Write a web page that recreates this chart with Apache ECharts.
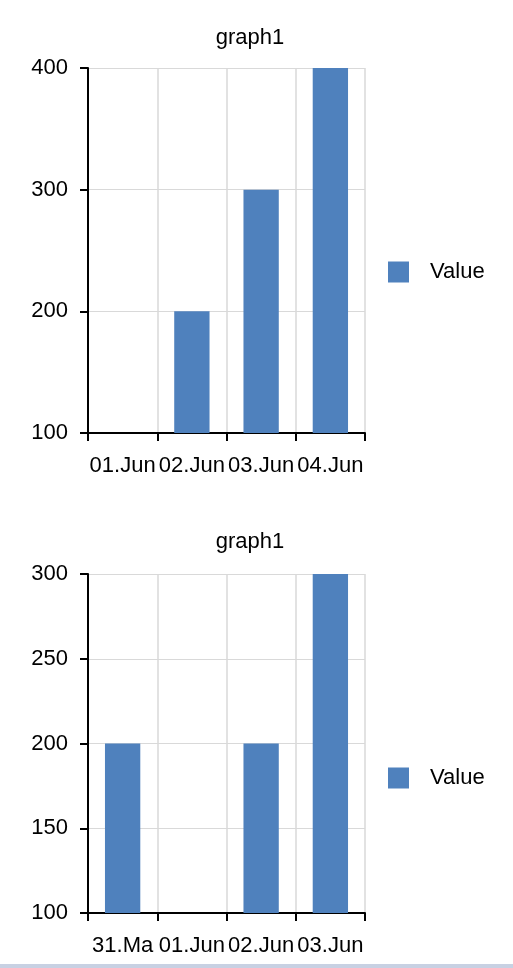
<!DOCTYPE html>
<html>
<head>
<meta charset="utf-8">
<script src="https://cdn.jsdelivr.net/npm/echarts@6/dist/echarts.min.js"></script>
<style>
html,body{margin:0;padding:0;background:#fff;overflow:hidden;}
#c{width:513px;height:968px;}
#strip{position:fixed;left:0;bottom:0;width:513px;height:4px;background:#c8d1e3;}
</style>
</head>
<body>
<div id="c"></div>
<div id="strip"></div>
<script>
var title1 = 'graph1';
var title2 = 'graph1';
var seriesName = 'Value';
var categories1 = ['01.Jun', '02.Jun', '03.Jun', '04.Jun'];
var values1 = [100, 200, 300, 400];
var categories2 = ['31.May', '01.Jun', '02.Jun', '03.Jun'];
var values2 = [200, 100, 200, 300];
var yTicks1 = [100, 200, 300, 400];
var yTicks2 = [100, 150, 200, 250, 300];

var FONT = 'Liberation Sans, Arial, sans-serif';
var BLUE = '#4f81bd';
var GRID = '#d9d9d9';

function xAxis(idx, cats) {
  return {
    type: 'category', gridIndex: idx, data: cats,
    axisLine: {show: true, lineStyle: {color: '#000', width: 2}},
    axisTick: {show: true, length: 8, lineStyle: {color: '#000', width: 2}},
    axisLabel: {color: '#000', fontSize: 22, fontFamily: FONT, margin: 20,
      width: 69, overflow: 'breakAll', lineHeight: 25, interval: 0, hideOverlap: false},
    splitLine: {show: true, lineStyle: {color: GRID, width: 1.5}}
  };
}
function yAxis(idx, ticks) {
  return {
    type: 'value', gridIndex: idx,
    min: ticks[0], max: ticks[ticks.length - 1], interval: ticks[1] - ticks[0],
    axisLine: {show: true, lineStyle: {color: '#000', width: 2}},
    axisTick: {show: true, length: 8, lineStyle: {color: '#000', width: 2}},
    axisLabel: {color: '#000', fontSize: 22, fontFamily: FONT, margin: 20},
    splitLine: {show: true, lineStyle: {color: GRID, width: 1}}
  };
}

var chart = echarts.init(document.getElementById('c'), null, {renderer: 'canvas'});
chart.setOption({
  animation: false,
  color: [BLUE],
  title: [
    {text: title1, left: 245, top: 22, textAlign: 'center',
      textStyle: {fontSize: 22, fontWeight: 'normal', color: '#000', fontFamily: FONT}},
    {text: title2, left: 245, top: 526, textAlign: 'center',
      textStyle: {fontSize: 22, fontWeight: 'normal', color: '#000', fontFamily: FONT}}
  ],
  legend: [
    {data: [seriesName], left: 388, top: 261, icon: 'rect', itemWidth: 21, itemHeight: 21,
      itemGap: 10, textStyle: {fontSize: 22, color: '#000', fontFamily: FONT, padding: [0, 0, 0, 16]},
      padding: 0, selectedMode: false},
    {data: [seriesName], left: 388, top: 767, icon: 'rect', itemWidth: 21, itemHeight: 21,
      itemGap: 10, textStyle: {fontSize: 22, color: '#000', fontFamily: FONT, padding: [0, 0, 0, 16]},
      padding: 0, selectedMode: false}
  ],
  grid: [
    {left: 88, top: 68, width: 277, height: 365, outerBoundsMode: 'none', containLabel: false},
    {left: 88, top: 574, width: 277, height: 339, outerBoundsMode: 'none', containLabel: false}
  ],
  xAxis: [xAxis(0, categories1), xAxis(1, categories2)],
  yAxis: [yAxis(0, yTicks1), yAxis(1, yTicks2)],
  series: [
    {name: seriesName, type: 'bar', xAxisIndex: 0, yAxisIndex: 0, data: values1,
      barWidth: '51%', itemStyle: {color: BLUE}},
    {name: seriesName, type: 'bar', xAxisIndex: 1, yAxisIndex: 1, data: values2,
      barWidth: '51%', itemStyle: {color: BLUE}}
  ]
});
</script>
</body>
</html>
